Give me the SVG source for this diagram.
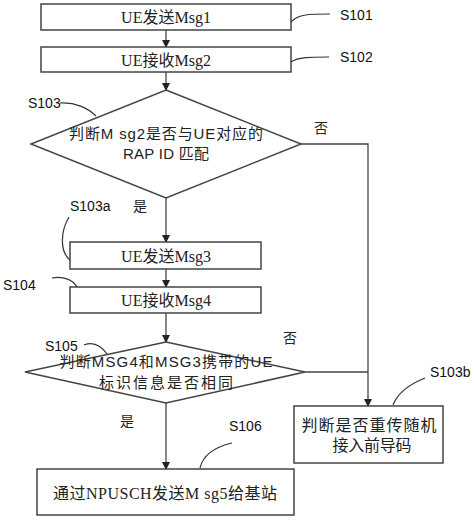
<svg xmlns="http://www.w3.org/2000/svg" width="474" height="520" viewBox="0 0 474 520">
<defs>
<marker id="ah" markerWidth="8" markerHeight="8" refX="7" refY="4" orient="auto" markerUnits="userSpaceOnUse">
<path d="M0,0 L8,4 L0,8 Z" fill="#222"/>
</marker>
<style>
.box{fill:#fff;stroke:#444;stroke-width:1.5}
.ln{fill:none;stroke:#444;stroke-width:1.3}
.ld{fill:none;stroke:#333;stroke-width:1.2}
.bt{font-family:"Liberation Serif","Noto Sans CJK SC",serif;font-size:16px;fill:#222;text-anchor:middle}
.dt{font-family:"Liberation Sans","Noto Sans CJK SC",sans-serif;font-size:15px;fill:#222;text-anchor:middle}
.lb{font-family:"Liberation Sans",Arial,sans-serif;font-size:14px;fill:#111}
.yn{font-family:"Noto Sans CJK SC",sans-serif;font-size:14px;fill:#222}
</style>
</defs>
<rect width="474" height="520" fill="#fff"/>
<g id="connectors">
<line class="ln" x1="166" y1="30" x2="166" y2="47" marker-end="url(#ah)"/>
<line class="ln" x1="166" y1="72" x2="166" y2="90" marker-end="url(#ah)"/>
<line class="ln" x1="166" y1="198" x2="166" y2="242" marker-end="url(#ah)"/>
<line class="ln" x1="166" y1="269" x2="166" y2="287" marker-end="url(#ah)"/>
<line class="ln" x1="166" y1="313" x2="166" y2="342" marker-end="url(#ah)"/>
<line class="ln" x1="166" y1="403" x2="166" y2="469" marker-end="url(#ah)"/>
<polyline class="ln" points="301,144 368,144 368,406" marker-end="url(#ah)"/>
<line class="ln" x1="305" y1="372" x2="368" y2="372"/>
<text class="yn" x="314" y="133">否</text>
<text class="yn" x="283" y="343">否</text>
<text class="yn" x="133" y="211">是</text>
<text class="yn" x="120" y="426">是</text>
</g>
<g id="S101">
<rect class="box" x="41" y="4" width="250" height="26"/>
<text class="bt" x="166" y="23">UE发送Msg1</text>
<path class="ld" d="M291,22 C298,14 310,14 330,14"/>
<text class="lb" x="340" y="20">S101</text>
</g>
<g id="S102">
<rect class="box" x="41" y="47" width="250" height="25"/>
<text class="bt" x="166" y="66">UE接收Msg2</text>
<path class="ld" d="M291,62 C298,57 310,57 329,57"/>
<text class="lb" x="340" y="62">S102</text>
</g>
<g id="S103">
<polygon class="box" points="166,90 301,144 166,198 31,144"/>
<text class="dt" x="166" y="139" textLength="194" lengthAdjust="spacing">判断M sg2是否与UE对应的</text>
<text class="dt" x="166" y="159" textLength="86" lengthAdjust="spacing">RAP ID 匹配</text>
<path class="ld" d="M60,103 C75,102 88,108 96,116"/>
<text class="lb" x="28" y="108">S103</text>
</g>
<g id="S103a">
<rect class="box" x="70" y="242" width="191" height="27"/>
<text class="bt" x="166" y="262">UE发送Msg3</text>
<path class="ld" d="M69,217 C60,232 60,252 70,260"/>
<text class="lb" x="70" y="211">S103a</text>
</g>
<g id="S104">
<rect class="box" x="70" y="287" width="191" height="26"/>
<text class="bt" x="166" y="306">UE接收Msg4</text>
<path class="ld" d="M52,278 C64,276 73,280 77,287"/>
<text class="lb" x="3" y="290">S104</text>
</g>
<g id="S105">
<polygon class="box" points="166,342 305,372 166,403 25,372"/>
<text class="dt" x="166" y="367" textLength="213" lengthAdjust="spacing">判断MSG4和MSG3携带的UE</text>
<text class="dt" x="166" y="388" textLength="134" lengthAdjust="spacing">标识信息是否相同</text>
<path class="ld" d="M84,345 C94,341 102,347 107,354"/>
<text class="lb" x="45" y="351">S105</text>
</g>
<g id="S103b">
<rect class="box" x="294" y="406" width="149" height="57"/>
<text class="bt" x="369" y="431" textLength="135" lengthAdjust="spacing">判断是否重传随机</text>
<text class="bt" x="372" y="451" textLength="79" lengthAdjust="spacing">接入前导码</text>
<path class="ld" d="M393,405 C398,392 410,384 425,378"/>
<text class="lb" x="430" y="377">S103b</text>
</g>
<g id="S106">
<rect class="box" x="37" y="469" width="257" height="46"/>
<text class="bt" x="165" y="499" textLength="224" lengthAdjust="spacing">通过NPUSCH发送M sg5给基站</text>
<path class="ld" d="M200,468 C203,455 215,447 232,443"/>
<text class="lb" x="229" y="431">S106</text>
</g>
</svg>
